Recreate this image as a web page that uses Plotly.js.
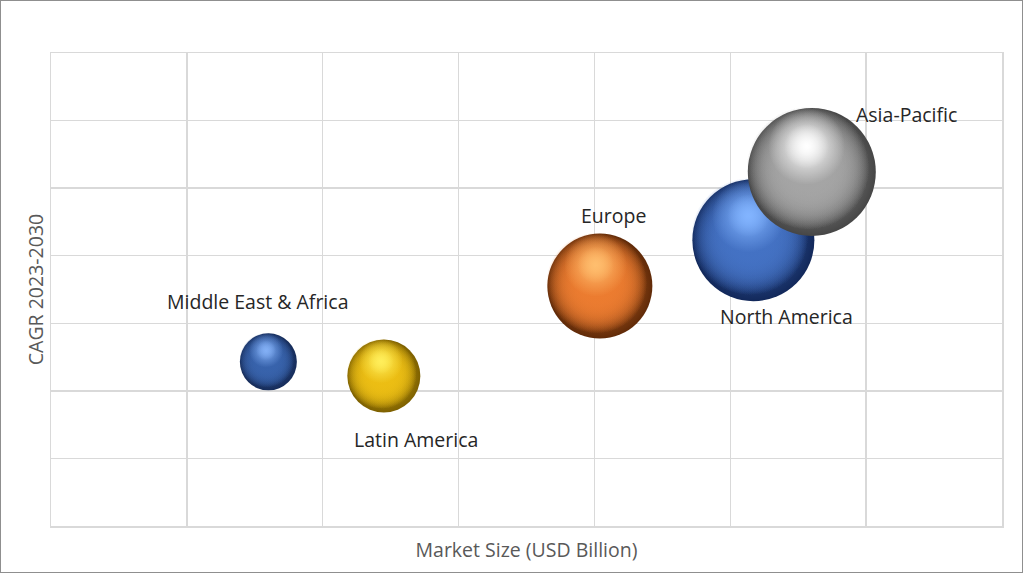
<!DOCTYPE html>
<html>
<head>
<meta charset="utf-8">
<script src="https://cdn.plot.ly/plotly-3.0.1.min.js"></script>
<style>
html,body{margin:0;padding:0;background:#fff;}
#wrap{position:relative;width:1024px;height:574px;}
#chart{position:absolute;left:0;top:0;width:1024px;height:574px;}
#frame{position:absolute;left:0;top:0;width:1021px;height:571px;border:1px solid #8f8f8f;pointer-events:none;}
</style>
</head>
<body>
<div id="wrap"><div id="chart"></div><div id="frame"></div></div>
<script>
// ---- data ----
var regions = ["Middle East & Africa", "Latin America", "Europe", "North America", "Asia-Pacific"];
var marketSize = [1.60, 2.45, 4.04, 5.17, 5.60];
var cagr = [2.43, 2.22, 3.55, 4.23, 5.24];
var bubbleSize = [57, 73, 105, 122, 128];

// ---- styles ----
var baseRGB = [[56, 99, 172], [236, 190, 20], [236, 124, 48], [68, 114, 196], [165, 165, 165]];
var lightRGB = [[130, 175, 245], [255, 238, 90], [255, 190, 110], [130, 180, 255], [255, 255, 255]];
var edgeRGB = [[22, 44, 90], [125, 96, 0], [96, 42, 8], [18, 40, 90], [70, 70, 70]];
var labelShiftX = [-11, 32, 14, 33, 95];
var labelShiftY = [60, -64, 71, -76, 57];

function rgba(c, a) { return "rgba(" + c[0] + "," + c[1] + "," + c[2] + "," + a + ")"; }

var pxPerUnitX = 950 / 7, pxPerUnitY = 473 / 7;
function shifted(i, fx, fy) {
  return {
    x: marketSize[i] + fx * bubbleSize[i] / pxPerUnitX,
    y: cagr[i] + fy * bubbleSize[i] / pxPerUnitY
  };
}

function layer(i, pos, sizeFrac, edge, center) {
  return {
    type: "scatter", mode: "markers", x: [pos.x], y: [pos.y],
    hoverinfo: "skip", showlegend: false,
    marker: { size: bubbleSize[i] * sizeFrac, sizemode: "diameter", color: edge,
      line: { width: 0 }, gradient: { type: "radial", color: center } }
  };
}

var traces = [];
for (var i = 0; i < regions.length; i++) {
  var b = baseRGB[i], l = lightRGB[i], e = edgeRGB[i];
  traces.push(layer(i, shifted(i, 0, 0), 1.0, rgba(e, 1), rgba(b, 1)));
  var p = shifted(i, -0.03, 0.03);
  for (var k = 0; k < 4; k++) traces.push(layer(i, p, 0.96, rgba(b, 0), rgba(b, 1)));
  var h = shifted(i, -0.04, 0.2);
  traces.push(layer(i, h, 0.6, rgba(l, 0), rgba(l, 1)));
  traces.push(layer(i, h, 0.35, rgba(l, 0), rgba(l, 0.8)));
}

var font = "'Open Sans', Lato, sans-serif";
var annotations = regions.map(function (r, i) {
  return { x: marketSize[i], y: cagr[i], xref: "x", yref: "y", text: r, showarrow: false,
    xshift: labelShiftX[i], yshift: labelShiftY[i],
    font: { family: font, size: 19.5, color: "#262626" } };
});

var gridColor = "#d9d9d9";
var layout = {
  width: 1024, height: 574,
  margin: { l: 51, r: 22, t: 53, b: 48 },
  paper_bgcolor: "#ffffff", plot_bgcolor: "#ffffff",
  showlegend: false,
  xaxis: { range: [0, 7], dtick: 1, tick0: 0, showticklabels: false, ticks: "",
    showgrid: true, gridcolor: gridColor, gridwidth: 1.5, zeroline: false,
    showline: true, mirror: true, linecolor: gridColor, linewidth: 1.5,
    automargin: false, fixedrange: true,
    title: { text: "Market Size (USD Billion)", standoff: 17,
      font: { family: font, size: 19.5, color: "#595959" } } },
  yaxis: { range: [0, 7], dtick: 1, tick0: 0, showticklabels: false, ticks: "",
    showgrid: true, gridcolor: gridColor, gridwidth: 1.5, zeroline: false,
    showline: true, mirror: true, linecolor: gridColor, linewidth: 1.5,
    automargin: false, fixedrange: true,
    title: { text: "CAGR 2023-2030", standoff: 0,
      font: { family: font, size: 19.5, color: "#595959" } } },
  annotations: annotations
};

Plotly.newPlot("chart", traces, layout, { displayModeBar: false, staticPlot: true });
</script>
</body>
</html>
